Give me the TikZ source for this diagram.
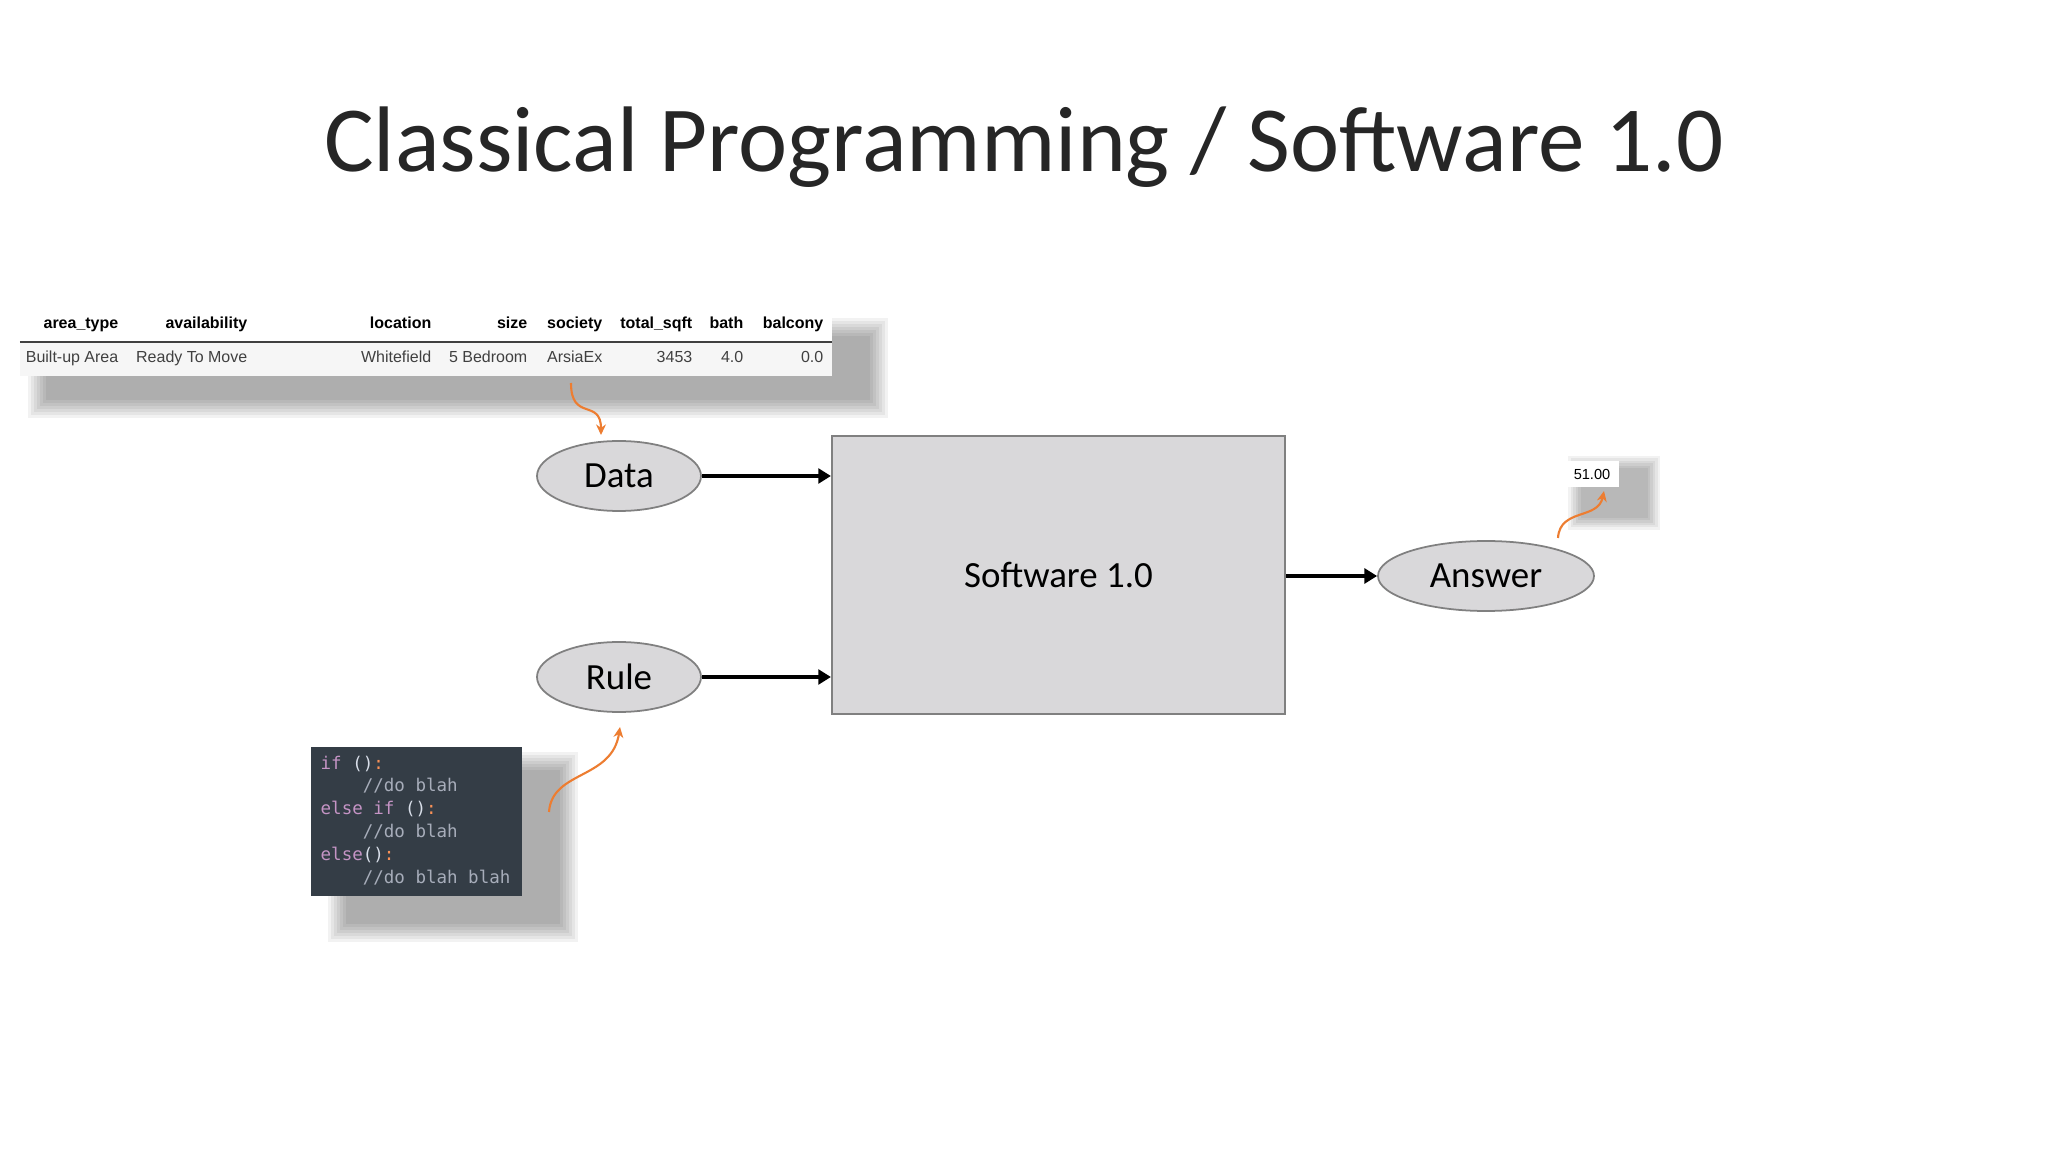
\documentclass[tikz,border=0pt]{standalone}
\usepackage{fontspec}
\setmainfont{Carlito}
\setmonofont{DejaVu Sans Mono}
\newfontfamily\tblfont{Liberation Sans}
\usepackage{xcolor}
\usetikzlibrary{shapes.geometric,arrows.meta}
\definecolor{boxgray}{RGB}{217,216,218}
\definecolor{edgegray}{RGB}{128,128,128}
\definecolor{pptorange}{RGB}{237,125,49}
\definecolor{codebg}{RGB}{52,61,70}
\definecolor{codekw}{RGB}{197,148,197}
\definecolor{codepar}{RGB}{216,222,233}
\definecolor{codeop}{RGB}{249,145,87}
\definecolor{codecm}{RGB}{167,173,186}

\begin{document}
\begin{tikzpicture}[
    blob/.style={ellipse,draw=edgegray,line width=0.5pt,fill=boxgray,inner sep=0pt,
      minimum width=1.64cm,minimum height=0.70cm,font=\fontsize{10.5pt}{12pt}\selectfont},
    flow/.style={-{Triangle[length=3.6pt,width=4.2pt]},line width=1.2pt},
    hint/.style={-{Stealth[length=3pt,width=2.8pt]},pptorange,line width=0.6pt},
    shade/.style={fill=black,opacity=0.05,draw=none}]
\useasboundingbox[fill=white] (0,0) rectangle (20.48,-11.52);

\node[font=\fontsize{26.5pt}{30pt}\selectfont,text=black!85] (title) at (10.24,-1.47) {Classical Programming / Software 1.0};

% table
\foreach \d in {0,0.03,...,0.18}
  \fill[shade] (0.28+\d,-3.18-\d) rectangle (8.88-\d,-4.18+\d);
\fill[white] (0.20,-3.13) rectangle (8.32,-3.42);
\fill[gray!7] (0.20,-3.42) rectangle (8.32,-3.76);
\draw[black!75,line width=0.6pt] (0.20,-3.42) -- (8.32,-3.42);
\foreach \x/\h/\v [count=\i] in {1.19/area\_type/Built-up Area, 2.48/availability/Ready To Move,
    4.32/location/Whitefield, 5.28/size/5 Bedroom, 6.03/society/ArsiaEx,
    6.93/total\_sqft/3453, 7.44/bath/4.0, 8.24/balcony/0.0} {
  \node[anchor=base east,inner sep=0,font=\tblfont\bfseries\fontsize{4.55pt}{5pt}\selectfont] (h\i) at (\x,-3.29) {\h};
  \node[anchor=base east,inner sep=0,font=\tblfont\fontsize{4.55pt}{5pt}\selectfont,text=black!75] (v\i) at (\x,-3.63) {\v};
}

% code
\foreach \d in {0,0.03,...,0.18}
  \fill[shade] (3.28+\d,-7.52-\d) rectangle (5.78-\d,-9.42+\d);
\fill[codebg] (3.11,-7.47) rectangle (5.22,-8.96);
\node[anchor=north west,align=left,inner sep=0,font=\ttfamily\fontsize{4.98pt}{6.54pt}\selectfont,text=codecm] (code) at (3.20,-7.55) {%
{\color{codekw}if} {\color{codepar}()}{\color{codeop}:}\\
\phantom{else}//do blah\\
{\color{codekw}else if} {\color{codepar}()}{\color{codeop}:}\\
\phantom{else}//do blah\\
{\color{codekw}else}{\color{codepar}()}{\color{codeop}:}\\
\phantom{else}//do blah blah};

% answer value
\foreach \d in {0,0.025,...,0.125}
  \fill[shade] (15.68+\d,-4.56-\d) rectangle (16.60-\d,-5.30+\d);
\fill[white] (15.65,-4.61) rectangle (16.19,-4.87);
\node[inner sep=0,font=\tblfont\fontsize{4.15pt}{5pt}\selectfont] (val) at (15.92,-4.74) {51.00};

\node[blob] (data) at (6.19,-4.76) {Data};
\node[blob] (rule) at (6.19,-6.77) {Rule};
\node[draw=edgegray,line width=0.6pt,fill=boxgray,minimum width=4.53cm,minimum height=2.78cm,
  font=\fontsize{10.5pt}{12pt}\selectfont] (sw) at (10.585,-5.75) {Software 1.0};
\node[blob,minimum width=2.16cm] (ans) at (14.86,-5.76) {Answer};

\draw[flow] (data.east) -- (data.east -| sw.west);
\draw[flow] (rule.east) -- (rule.east -| sw.west);
\draw[flow] (sw.east |- ans.west) -- (ans.west);

\coordinate (tblsrc) at (5.71,-3.83);
\coordinate (datatip) at (6.01,-4.35);
\coordinate (codesrc) at (5.49,-8.12);
\coordinate (ruletip) at (6.20,-7.27);
\coordinate (anssrc) at (15.58,-5.38);
\coordinate (valtip) at (16.04,-4.91);
\draw[hint] (tblsrc) .. controls (5.71,-4.22) and (6.01,-3.98) .. (datatip);
\draw[hint] (codesrc) .. controls (5.52,-7.70) and (6.12,-7.80) .. (ruletip);
\draw[hint] (anssrc) .. controls (15.60,-5.08) and (15.98,-5.20) .. (valtip);
\end{tikzpicture}
\end{document}
